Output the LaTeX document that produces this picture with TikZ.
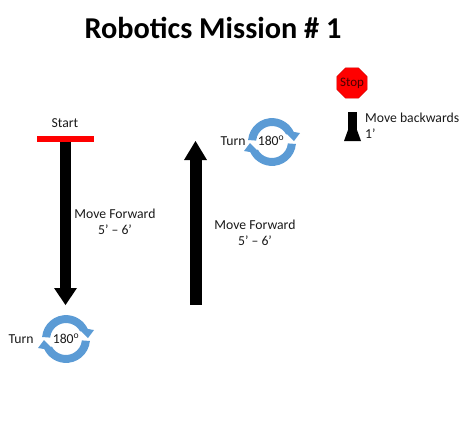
\documentclass[tikz,border=0pt]{standalone}
\usepackage{fontspec}
\setmainfont{Carlito}
\usepackage{xcolor}
\usetikzlibrary{arrows.meta,positioning,shapes.geometric,calc}
\definecolor{turnblue}{HTML}{5B9BD5}
\definecolor{stopred}{HTML}{FF0000}
\tikzset{
  lbl/.style={font=\fontsize{13.7}{16}\selectfont, align=center, inner sep=0pt, text=black!90},
  turnhalf/.pic={
    \fill[turnblue] (-23.9,-2) arc[start angle=-175, end angle=-25, radius=24]
      -- (28,-9) -- (22,-1) -- (15,-8) -- (14.2,-7.5)
      arc[start angle=-28, end angle=-175, radius=16] -- cycle;
  },
  pics/turnsign/.style={code={
    \pic {turnhalf};
    \pic[rotate=180] {turnhalf};
  }}
}
\begin{document}
\begin{tikzpicture}[x=1pt,y=-1pt]
  \useasboundingbox (0,0) rectangle (474,432);

  % Title
  \node[font=\fontsize{30.3}{34}\selectfont\bfseries, inner sep=0pt] (title) at (213,28) {Robotics Mission \# 1};

  % Start bar and forward run
  \node[lbl] (start) at (65,123) {Start};
  \fill[black] (60,141) rectangle (71,288);
  \fill[black] (54,288) -- (77,288) -- (65.5,305) -- cycle;
  \fill[stopred] (37,136) rectangle (94,142);
  \node[lbl] (forwardA) at (115,222) {Move Forward\\5’ -- 6’};

  % First turn
  \pic at (66,339) {turnsign};
  \node[lbl] (turnA) at (21,339) {Turn};
  \node[lbl] (angleA) at (66,339) {180\textsuperscript{o}};

  % Return run
  \fill[black] (190,160) rectangle (202,305);
  \fill[black] (184,160) -- (207,160) -- (195.5,141) -- cycle;
  \node[lbl] (forwardB) at (255,233) {Move Forward\\5’ -- 6’};

  % Second turn
  \pic at (272,142) {turnsign};
  \node[lbl] (turnB) at (233,141) {Turn};
  \node[lbl] (angleB) at (271,141) {180\textsuperscript{o}};

  % Move backwards
  \fill[black] (344,141) -- (361,141) -- (357,130) -- (348,130) -- cycle;
  \fill[black] (348,112) rectangle (357,141);
  \node[lbl, anchor=west, align=left] (back) at (365,126) {Move backwards\\1’};

  % Stop sign
  \node[regular polygon, regular polygon sides=8, draw=red!80!black, fill=stopred, minimum size=33pt, inner sep=-5pt, font=\fontsize{13}{15}\selectfont, text=black!70!red] (stop) at (352,83) {Stop};
\end{tikzpicture}
\end{document}
